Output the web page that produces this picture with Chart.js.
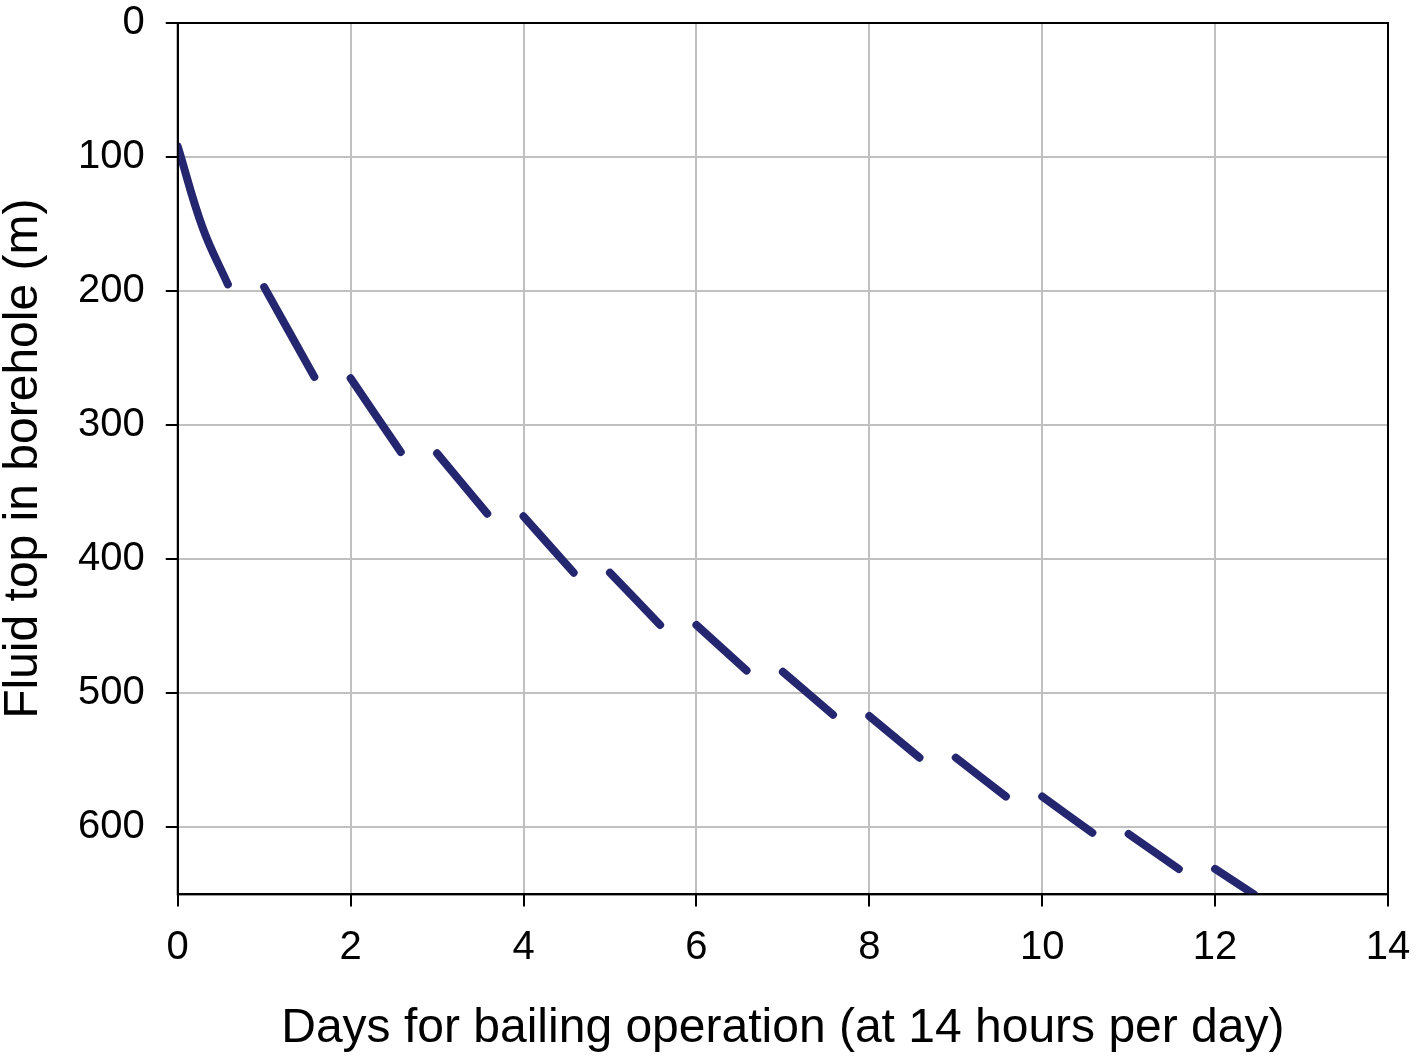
<!DOCTYPE html>
<html>
<head>
<meta charset="utf-8">
<script src="https://cdn.jsdelivr.net/npm/chart.js@4.4.1/dist/chart.umd.min.js"></script>
<style>
    html, body { margin: 0; padding: 0; background: #fff; }
    #wrap { width: 1418px; height: 1062px; }
</style>
</head>
<body>
<div id="wrap"><canvas id="bailing-chart" width="1418" height="1062"></canvas></div>
<script>
// Bailing runs 14 h per day: one line piece per working day, level holds overnight
const dayStart   = [0, 1, 2, 3, 4, 5, 6, 7, 8, 9, 10, 11, 12];
const dayEnd     = [0.58, 1.58, 2.58, 3.58, 4.58, 5.58, 6.58, 7.58, 8.58, 9.58, 10.58, 11.58, 12.45];
const levelStart = [92, 197, 265, 321, 368, 410, 449, 484, 517, 548, 577, 605, 631];
const levelEnd   = [195, 264, 320, 366, 410, 449, 483, 516, 548, 577, 604, 631, 650];

// extra readings inside the first (curved) day
const firstDayX = [0.29];
const firstDayY = [153];

const xTicks = [0, 2, 4, 6, 8, 10, 12, 14];
const yTicks = [0, 100, 200, 300, 400, 500, 600];

const FONT = "'Liberation Sans', Arial, sans-serif";
const NAVY = '#252670';

// build one dataset, with a null point between days to break the line
const points = [];
dayStart.forEach((d, i) => {
    points.push({ x: d, y: levelStart[i] });
    if (i === 0) {
        firstDayX.forEach((x, k) => points.push({ x: x, y: firstDayY[k] }));
    }
    points.push({ x: dayEnd[i], y: levelEnd[i] });
    if (i < dayStart.length - 1) {
        points.push({ x: (dayEnd[i] + dayStart[i + 1]) / 2, y: null });
    }
});

// black frame round the plot area
const framePlugin = {
    id: 'frame',
    afterDraw(chart) {
        const { ctx, chartArea: a } = chart;
        ctx.save();
        ctx.strokeStyle = '#000';
        ctx.lineWidth = 2;
        ctx.strokeRect(a.left, a.top, a.right - a.left, a.bottom - a.top);
        ctx.restore();
    }
};

new Chart(document.getElementById('bailing-chart'), {
    type: 'line',
    data: {
        datasets: [{
            label: 'Fluid top',
            data: points,
            borderColor: NAVY,
            backgroundColor: NAVY,
            borderWidth: 8,
            borderCapStyle: 'round',
            borderJoinStyle: 'round',
            pointRadius: 0,
            spanGaps: false,
            tension: 0.4,
            fill: false,
        }]
    },
    options: {
        responsive: false,
        animation: false,
        layout: {
            padding: { top: 23, right: 30, left: 0, bottom: 4 }
        },
        plugins: {
            legend: { display: false },
            tooltip: { enabled: false }
        },
        scales: {
            x: {
                type: 'linear',
                min: 0,
                max: 14,
                afterBuildTicks: (axis) => { axis.ticks = xTicks.map(v => ({ value: v })); },
                // let the layout padding decide the plot edges
                afterFit: (axis) => { axis.paddingLeft = 0; axis.paddingRight = 0; },
                grid: {
                    color: '#c0c0c0',
                    lineWidth: 2,
                    tickColor: '#000',
                    tickLength: 12,
                },
                border: { color: '#000', width: 2 },
                ticks: {
                    color: '#000',
                    font: { family: FONT, size: 40, lineHeight: 1 },
                    padding: 22,
                    maxRotation: 0,
                },
                title: {
                    display: true,
                    text: 'Days for bailing operation (at 14 hours per day)',
                    color: '#000',
                    font: { family: FONT, size: 48, lineHeight: 1.2 },
                    padding: { top: 10, bottom: 0 }
                }
            },
            y: {
                type: 'linear',
                reverse: true,
                min: 0,
                max: 650,
                afterBuildTicks: (axis) => { axis.ticks = yTicks.map(v => ({ value: v })); },
                afterFit: (axis) => { axis.paddingTop = 0; axis.paddingBottom = 0; },
                grid: {
                    color: '#c0c0c0',
                    lineWidth: 2,
                    tickColor: '#000',
                    tickLength: 12,
                },
                border: { color: '#000', width: 2 },
                ticks: {
                    color: '#000',
                    font: { family: FONT, size: 40, lineHeight: 1 },
                    padding: 21,
                },
                title: {
                    display: true,
                    text: 'Fluid top in borehole (m)',
                    color: '#000',
                    font: { family: FONT, size: 48, lineHeight: 1 },
                    padding: { top: 0, bottom: 9 }
                }
            }
        }
    },
    plugins: [framePlugin]
});
</script>
</body>
</html>
